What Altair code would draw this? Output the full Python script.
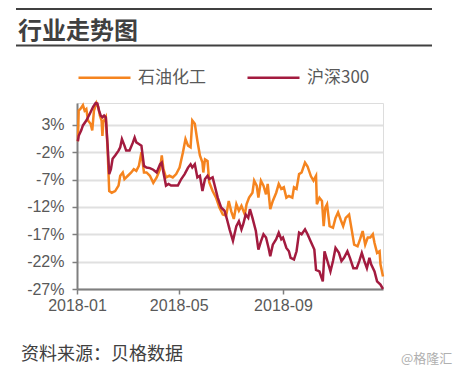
import altair as alt
import pandas as pd

series_names = ["石油化工", "沪深300"]
series_colors = ["#F5841F", "#A31B3F"]

oil_dates = [
    "2018-01-02", "2018-01-03", "2018-01-05", "2018-01-08", "2018-01-10", "2018-01-12", "2018-01-14",
    "2018-01-17", "2018-01-19", "2018-01-21", "2018-01-24", "2018-01-26", "2018-01-28", "2018-01-30",
    "2018-01-31", "2018-02-01", "2018-02-04", "2018-02-06", "2018-02-08", "2018-02-11", "2018-02-15",
    "2018-02-19", "2018-02-21", "2018-02-24", "2018-02-26", "2018-03-02", "2018-03-06", "2018-03-09",
    "2018-03-12", "2018-03-15", "2018-03-18", "2018-03-21", "2018-03-24", "2018-03-28", "2018-04-01",
    "2018-04-05", "2018-04-09", "2018-04-11", "2018-04-13", "2018-04-16", "2018-04-20", "2018-04-24",
    "2018-04-28", "2018-05-02", "2018-05-06", "2018-05-09", "2018-05-12", "2018-05-15", "2018-05-17",
    "2018-05-20", "2018-05-23", "2018-05-26", "2018-05-29", "2018-05-30", "2018-06-01", "2018-06-04",
    "2018-06-06", "2018-06-10", "2018-06-14", "2018-06-18", "2018-06-22", "2018-06-26", "2018-06-29",
    "2018-07-02", "2018-07-05", "2018-07-08", "2018-07-11", "2018-07-14", "2018-07-18", "2018-07-20",
    "2018-07-23", "2018-07-27", "2018-07-29", "2018-08-01", "2018-08-03", "2018-08-06", "2018-08-09",
    "2018-08-12", "2018-08-14", "2018-08-17", "2018-08-20", "2018-08-24", "2018-08-27", "2018-08-30",
    "2018-09-02", "2018-09-05", "2018-09-08", "2018-09-12", "2018-09-14", "2018-09-17", "2018-09-20",
    "2018-09-23", "2018-09-27", "2018-09-30", "2018-10-04", "2018-10-07", "2018-10-10", "2018-10-11",
    "2018-10-14", "2018-10-17", "2018-10-19", "2018-10-21", "2018-10-23", "2018-10-26", "2018-10-30",
    "2018-11-02", "2018-11-05", "2018-11-08", "2018-11-11", "2018-11-14", "2018-11-18", "2018-11-21",
    "2018-11-24", "2018-11-28", "2018-12-01", "2018-12-04", "2018-12-07", "2018-12-10", "2018-12-13",
    "2018-12-16", "2018-12-18", "2018-12-21", "2018-12-24", "2018-12-25", "2018-12-28",
]
oil_values = [
    0.0, 5.6, 5.9, 6.6, 5.6, 5.9, 3.8, 3.2, 2.0, 5.6, 7.0, 6.3, 4.7, 3.8, 1.0,
    3.5, 4.4, -1.1, -9.1, -9.4, -9.1, -8.1, -6.3, -5.7, -6.9,
    -6.3, -5.7, -5.1, -5.4, -4.5, -2.0, -5.7, -5.7, -6.3,
    -7.6, -6.6, -5.1, -2.6, -5.1, -6.6, -6.3, -6.6, -6.0,
    -4.8, -2.0, 0.4, -0.8, -1.1, 3.8, 3.2, 0.1, -2.6, -3.9, -5.7,
    -3.3, -3.6, -7.5, -9.1, -10.3, -12.1, -13.4, -13.6, -10.9,
    -12.8, -14.2, -11.5, -12.7, -11.8, -13.4, -11.5, -10.3, -9.4, -7.2,
    -8.1, -10.3, -7.2, -8.1, -9.7, -7.8, -12.4, -10.9, -9.4, -7.8, -8.7,
    -8.4, -10.3, -10.0, -10.3, -8.4, -8.7, -6.0, -5.7, -3.9, -4.6,
    -6.4, -7.2, -6.3, -11.5, -10.3, -10.9, -15.5, -12.1, -11.5, -15.5, -15.8,
    -14.0, -13.0, -14.3, -15.5, -14.0, -13.4, -16.1, -18.9, -19.2,
    -17.9, -16.4, -18.9, -17.6, -17.6, -17.0, -18.6, -20.4, -20.1, -22.5, -24.7,
]

hs_dates = [
    "2018-01-02", "2018-01-03", "2018-01-06", "2018-01-08", "2018-01-12", "2018-01-14", "2018-01-16",
    "2018-01-20", "2018-01-23", "2018-01-25", "2018-01-27", "2018-01-29", "2018-01-31",
    "2018-02-02", "2018-02-04", "2018-02-06", "2018-02-08", "2018-02-10", "2018-02-12", "2018-02-15",
    "2018-02-19", "2018-02-21", "2018-02-23", "2018-02-26", "2018-02-28",
    "2018-03-04", "2018-03-08", "2018-03-10", "2018-03-12", "2018-03-15", "2018-03-18", "2018-03-21",
    "2018-03-24", "2018-03-28",
    "2018-04-01", "2018-04-05", "2018-04-09", "2018-04-11", "2018-04-13", "2018-04-16", "2018-04-19",
    "2018-04-22", "2018-04-26", "2018-04-30",
    "2018-05-04", "2018-05-08", "2018-05-12", "2018-05-15", "2018-05-17", "2018-05-20", "2018-05-23",
    "2018-05-26", "2018-05-29",
    "2018-06-01", "2018-06-04", "2018-06-06", "2018-06-10", "2018-06-12", "2018-06-16", "2018-06-20",
    "2018-06-24", "2018-06-27", "2018-06-30",
    "2018-07-04", "2018-07-08", "2018-07-11", "2018-07-14", "2018-07-16", "2018-07-19", "2018-07-22",
    "2018-07-24", "2018-07-27", "2018-07-31",
    "2018-08-03", "2018-08-06", "2018-08-09", "2018-08-12", "2018-08-15", "2018-08-17", "2018-08-20",
    "2018-08-24", "2018-08-27", "2018-08-30",
    "2018-09-01", "2018-09-05", "2018-09-08", "2018-09-10", "2018-09-14", "2018-09-17", "2018-09-20",
    "2018-09-23", "2018-09-27", "2018-09-30",
    "2018-10-04", "2018-10-08", "2018-10-10", "2018-10-14", "2018-10-18", "2018-10-20", "2018-10-24",
    "2018-10-27", "2018-10-30",
    "2018-11-02", "2018-11-06", "2018-11-09", "2018-11-12", "2018-11-16", "2018-11-19", "2018-11-23",
    "2018-11-27", "2018-11-30",
    "2018-12-03", "2018-12-06", "2018-12-09", "2018-12-12", "2018-12-14", "2018-12-18", "2018-12-21",
    "2018-12-25", "2018-12-28",
]
hs_values = [
    0.0, 1.0, 2.0, 2.9, 3.8, 4.4, 5.0, 6.3, 7.0, 6.9, 5.6, 4.7, 4.4,
    4.7, 4.4, -0.5, -6.0, -5.1, -3.2, -2.6, -1.7, -1.1, 0.4, -0.8, -1.7,
    -1.7, -0.2, 0.7, -0.2, -0.5, -0.8, -4.5, -4.8, -4.9,
    -5.2, -5.7, -4.2, -3.9, -5.7, -8.1, -7.8, -8.1, -8.1, -8.1,
    -6.9, -6.0, -4.8, -4.2, -4.8, -4.2, -6.6, -6.3, -9.1,
    -6.9, -6.3, -6.9, -6.6, -7.8, -10.3, -12.1, -12.7, -14.3, -16.1,
    -18.2, -15.5, -14.6, -16.1, -15.2, -13.4, -14.0, -12.4, -14.0, -16.4,
    -19.8, -18.3, -17.0, -17.6, -19.5, -21.0, -18.9, -17.9, -16.7, -17.9,
    -17.6, -19.5, -20.1, -21.3, -21.6, -20.1, -16.7, -17.0, -16.1, -17.0,
    -18.4, -19.8, -23.5, -23.8, -25.6, -20.1, -22.2, -23.8, -21.9,
    -19.5, -20.4, -21.9, -21.3, -20.1, -21.3, -23.2, -23.2, -21.9,
    -20.4, -21.9, -23.2, -21.3, -22.5, -23.8, -25.6, -26.2, -27.0,
]

y_ticks = [-27, -22, -17, -12, -7, -2, 3]
x_domain = ["2018-01-01", "2018-12-28"]
y_domain = [-27, 7]

title_text = "行业走势图"
source_text = "资料来源：贝格数据"
mark_text = "@格隆汇"

df = pd.concat([
    pd.DataFrame({"date": oil_dates, "value": oil_values, "series": series_names[0]}),
    pd.DataFrame({"date": hs_dates, "value": hs_values, "series": series_names[1]}),
], ignore_index=True)

AX_FONT = "Liberation Sans"
CJK = "Noto Sans CJK SC"

lines = alt.Chart(df).mark_line(strokeWidth=2.5).encode(
    x=alt.X("date:T",
            scale=alt.Scale(domain=x_domain),
            axis=alt.Axis(
                title=None, format="%Y-%m", grid=False,
                values=[alt.DateTime(year=2018, month=1, date=1),
                        alt.DateTime(year=2018, month=5, date=1),
                        alt.DateTime(year=2018, month=9, date=1)],
                labelFont=AX_FONT, labelFontSize=16, labelColor="#595959",
                domainColor="#7f7f7f", domainWidth=2, tickColor="#7f7f7f",
                tickWidth=1.5, tickSize=5, labelPadding=3, labelFlush=False,
            )),
    y=alt.Y("value:Q",
            scale=alt.Scale(domain=y_domain, nice=False, zero=False),
            axis=alt.Axis(
                title=None, values=y_ticks, labelExpr="datum.value + '%'",
                labelFont=AX_FONT, labelFontSize=16, labelColor="#595959",
                domainColor="#7f7f7f", domainWidth=2, tickColor="#7f7f7f",
                tickWidth=1.5, tickSize=5, labelPadding=8,
                gridColor="#e0e0e0", gridWidth=2,
            )),
    color=alt.Color("series:N",
                    scale=alt.Scale(domain=series_names, range=series_colors),
                    sort=series_names,
                    legend=alt.Legend(
                        orient="none", legendX=0, legendY=-53, direction="horizontal",
                        title=None, symbolType="stroke", symbolSize=2704,
                        symbolStrokeWidth=2.5, labelFont=CJK, labelFontSize=17,
                        labelColor="#595959", columnPadding=36, labelOffset=6,
                    )),
)

one = alt.Data(values=[{"a": 1}])

top_rule = alt.Chart(one).mark_rule(color="#404040", strokeWidth=2).encode(
    x=alt.value(-61), x2=alt.value(355), y=alt.value(-94))
mid_rule = alt.Chart(one).mark_rule(color="#404040", strokeWidth=2).encode(
    x=alt.value(-61), x2=alt.value(355), y=alt.value(-57.5))
title = alt.Chart(one).mark_text(
    text=title_text, align="left", baseline="alphabetic", font=CJK,
    fontSize=24, fontWeight="bold", color="#404040").encode(
    x=alt.value(-59), y=alt.value(-64))
source = alt.Chart(one).mark_text(
    text=source_text, align="left", baseline="alphabetic", font=CJK,
    fontSize=18, color="#404040").encode(
    x=alt.value(-56), y=alt.value(257))
mark = alt.Chart(one).mark_text(
    text=mark_text, align="left", baseline="alphabetic", font=CJK,
    fontSize=13, color="#b0b0b0").encode(
    x=alt.value(324), y=alt.value(260))

chart = alt.layer(lines, top_rule, mid_rule, title, source, mark).properties(
    width=306, height=186,
    autosize=alt.AutoSizeParams(type="none"),
    padding={"left": 69, "top": 95, "right": 70, "bottom": 80},
).configure_view(stroke=None).configure(background="white")

chart.save("out.html", embed_options={"renderer": "svg", "actions": False})
